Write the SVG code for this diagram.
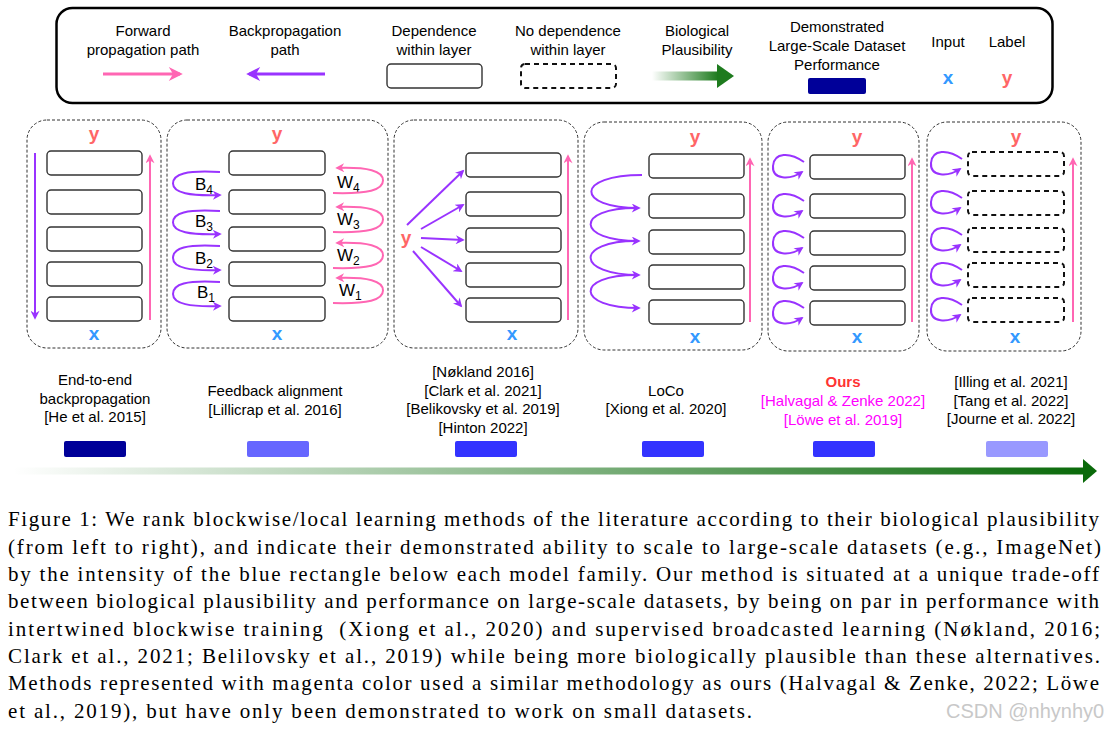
<svg xmlns="http://www.w3.org/2000/svg" width="1114" height="731" viewBox="0 0 1114 731">
<style>
.t{font-family:"Liberation Sans",Arial,sans-serif;font-size:15px;fill:#000;text-anchor:middle}
.lbl{font-family:"Liberation Sans",Arial,sans-serif;font-size:19px;font-weight:bold;text-anchor:middle}
.ly{fill:#ff6666}
.lx{fill:#3399ff}
.bw{font-family:"Liberation Sans",Arial,sans-serif;font-size:17px;fill:#000}
.sub{font-size:12px}
.panel{fill:none;stroke:#333;stroke-width:1;stroke-dasharray:3 2}
.blk{fill:#fff;stroke:#333;stroke-width:1.4}
.dblk{fill:#fff;stroke:#111;stroke-width:2;stroke-dasharray:5 4}
.pk{fill:none;stroke:#ff66b3;stroke-width:2;marker-end:url(#mpk)}
.pu{fill:none;stroke:#9933ff;stroke-width:2;marker-end:url(#mpu)}
.cap{font-family:"Liberation Serif","Times New Roman",serif;font-size:21px;fill:#000}
.perf{stroke:none}
</style>
<defs>
<marker id="mpk" viewBox="0 0 10 10" refX="8" refY="5" markerWidth="10" markerHeight="9" markerUnits="userSpaceOnUse" orient="auto"><path d="M0,0 L10,5 L0,10 L3,5 z" fill="#ff66b3"/></marker>
<marker id="mpu" viewBox="0 0 10 10" refX="8" refY="5" markerWidth="10" markerHeight="9" markerUnits="userSpaceOnUse" orient="auto"><path d="M0,0 L10,5 L0,10 L3,5 z" fill="#9933ff"/></marker>
<marker id="mpkL" viewBox="0 0 10 10" refX="8" refY="5" markerWidth="16" markerHeight="14" markerUnits="userSpaceOnUse" orient="auto"><path d="M0,0 L10,5 L0,10 L3,5 z" fill="#ff66b3"/></marker>
<marker id="mpuL" viewBox="0 0 10 10" refX="8" refY="5" markerWidth="16" markerHeight="14" markerUnits="userSpaceOnUse" orient="auto"><path d="M0,0 L10,5 L0,10 L3,5 z" fill="#9933ff"/></marker>
<linearGradient id="gLeg" x1="0" y1="0" x2="1" y2="0"><stop offset="0" stop-color="#1e7b1e" stop-opacity="0"/><stop offset="1" stop-color="#1e7b1e"/></linearGradient>
<linearGradient id="gBot" x1="0" y1="0" x2="1" y2="0"><stop offset="0" stop-color="#0a6a0a" stop-opacity="0"/><stop offset="1" stop-color="#0a6a0a"/></linearGradient>
</defs>

<g id="legend">
<rect x="56.5" y="8" width="996" height="95" rx="16" fill="none" stroke="#000" stroke-width="2.5"/>
<text class="t" x="143" y="36">Forward</text>
<text class="t" x="143" y="55">propagation path</text>
<line x1="103" y1="74" x2="180" y2="74" stroke="#ff66b3" stroke-width="3" marker-end="url(#mpkL)"/>
<text class="t" x="285" y="36">Backpropagation</text>
<text class="t" x="285" y="55">path</text>
<line x1="325" y1="74" x2="249" y2="74" stroke="#9933ff" stroke-width="3" marker-end="url(#mpuL)"/>
<text class="t" x="434" y="36">Dependence</text>
<text class="t" x="434" y="55">within layer</text>
<rect class="blk" x="387" y="64" width="95" height="24" rx="4"/>
<text class="t" x="568" y="36">No dependence</text>
<text class="t" x="568" y="55">within layer</text>
<rect class="dblk" x="521" y="64" width="95" height="24" rx="4"/>
<text class="t" x="697" y="36">Biological</text>
<text class="t" x="697" y="55">Plausibility</text>
<rect x="652" y="71.5" width="66" height="9" fill="url(#gLeg)"/>
<polygon points="717,64 734,76 717,88" fill="#1e7b1e"/>
<text class="t" x="837" y="32">Demonstrated</text>
<text class="t" x="837" y="51">Large-Scale Dataset</text>
<text class="t" x="837" y="70">Performance</text>
<rect x="808" y="78" width="58" height="16" rx="2" fill="#000099"/>
<text class="t" x="948" y="47">Input</text>
<text class="lbl lx" x="948" y="84">x</text>
<text class="t" x="1007" y="47">Label</text>
<text class="lbl ly" x="1007" y="84">y</text>
</g>

<g id="panel1">
<rect class="panel" x="27" y="120" width="134" height="228" rx="20"/>
<text class="lbl ly" x="94" y="140">y</text>
<rect class="blk" x="47" y="151" width="95" height="24" rx="4"/>
<rect class="blk" x="47" y="190" width="95" height="24" rx="4"/>
<rect class="blk" x="47" y="227" width="95" height="24" rx="4"/>
<rect class="blk" x="47" y="262" width="95" height="24" rx="4"/>
<rect class="blk" x="47" y="297" width="95" height="24" rx="4"/>
<text class="lbl lx" x="94" y="340">x</text>
</g>

<g id="panel2">
<rect class="panel" x="167" y="120" width="221" height="228" rx="20"/>
<text class="lbl ly" x="277" y="140">y</text>
<rect class="blk" x="229" y="151" width="96" height="24" rx="4"/>
<rect class="blk" x="229" y="190" width="96" height="24" rx="4"/>
<rect class="blk" x="229" y="227" width="96" height="24" rx="4"/>
<rect class="blk" x="229" y="262" width="96" height="24" rx="4"/>
<rect class="blk" x="229" y="297" width="96" height="24" rx="4"/>
<text class="lbl lx" x="277" y="340">x</text>
<text class="bw" x="195" y="190">B<tspan class="sub" dy="4">4</tspan></text>
<text class="bw" x="195" y="227">B<tspan class="sub" dy="4">3</tspan></text>
<text class="bw" x="195" y="264">B<tspan class="sub" dy="4">2</tspan></text>
<text class="bw" x="197" y="298">B<tspan class="sub" dy="4">1</tspan></text>
<text class="bw" x="337" y="188">W<tspan class="sub" dy="4">4</tspan></text>
<text class="bw" x="337" y="225">W<tspan class="sub" dy="4">3</tspan></text>
<text class="bw" x="337" y="261">W<tspan class="sub" dy="4">2</tspan></text>
<text class="bw" x="339" y="296">W<tspan class="sub" dy="4">1</tspan></text>
</g>

<g id="panel3">
<rect class="panel" x="394" y="120" width="184" height="228" rx="20"/>
<text class="lbl ly" x="406" y="244">y</text>
<rect class="blk" x="466" y="153" width="95" height="24" rx="4"/>
<rect class="blk" x="466" y="192" width="95" height="24" rx="4"/>
<rect class="blk" x="466" y="228" width="95" height="24" rx="4"/>
<rect class="blk" x="466" y="263" width="95" height="24" rx="4"/>
<rect class="blk" x="466" y="298" width="95" height="24" rx="4"/>
<text class="lbl lx" x="512" y="340">x</text>
</g>

<g id="panel4">
<rect class="panel" x="584" y="122" width="178" height="228" rx="20"/>
<text class="lbl ly" x="695" y="143">y</text>
<rect class="blk" x="649" y="154" width="95" height="24" rx="4"/>
<rect class="blk" x="649" y="194" width="95" height="24" rx="4"/>
<rect class="blk" x="649" y="230" width="95" height="24" rx="4"/>
<rect class="blk" x="649" y="265" width="95" height="24" rx="4"/>
<rect class="blk" x="649" y="300" width="95" height="24" rx="4"/>
<text class="lbl lx" x="695" y="343">x</text>
</g>

<g id="panel5">
<rect class="panel" x="768" y="122" width="151" height="229" rx="20"/>
<text class="lbl ly" x="857" y="143">y</text>
<rect class="blk" x="810" y="155" width="95" height="24" rx="4"/>
<rect class="blk" x="810" y="194" width="95" height="24" rx="4"/>
<rect class="blk" x="810" y="231" width="95" height="24" rx="4"/>
<rect class="blk" x="810" y="266" width="95" height="24" rx="4"/>
<rect class="blk" x="810" y="301" width="95" height="24" rx="4"/>
<text class="lbl lx" x="857" y="343">x</text>
</g>

<g id="panel6">
<rect class="panel" x="927" y="122" width="154" height="229" rx="20"/>
<text class="lbl ly" x="1016" y="143">y</text>
<rect class="dblk" x="968" y="152" width="96" height="24" rx="4"/>
<rect class="dblk" x="968" y="191" width="96" height="24" rx="4"/>
<rect class="dblk" x="968" y="228" width="96" height="24" rx="4"/>
<rect class="dblk" x="968" y="263" width="96" height="24" rx="4"/>
<rect class="dblk" x="968" y="298" width="96" height="24" rx="4"/>
<text class="lbl lx" x="1015" y="343">x</text>
</g>

<g id="connectors">
<line class="pu" x1="35" y1="153" x2="35" y2="318"/>
<line class="pk" x1="150" y1="320" x2="150" y2="156"/>
<path class="pu" d="M220,172 C186,170 173,174 173,183.5 C173,193 190,196 220,195"/>
<path class="pu" d="M220,211 C186,209 173,213 173,222.5 C173,232 190,235 220,234"/>
<path class="pu" d="M220,246 C186,244 173,248 173,258 C173,268 190,271 220,270"/>
<path class="pu" d="M220,282 C186,280 173,284 173,294 C173,304 190,307 220,306"/>
<path class="pk" d="M333,193 C368,194 383,190 383,180.5 C383,171 368,167 337,168"/>
<path class="pk" d="M333,232 C368,233 383,229 383,219.5 C383,210 368,206 337,207"/>
<path class="pk" d="M333,268 C368,269 383,265 383,255.5 C383,246 368,242 337,243"/>
<path class="pk" d="M333,303 C368,304 383,300 383,290.5 C383,281 368,277 337,278"/>
<line class="pu" x1="407" y1="225" x2="463" y2="171"/>
<line class="pu" x1="421" y1="229" x2="463" y2="205"/>
<line class="pu" x1="421" y1="238" x2="463" y2="240"/>
<line class="pu" x1="421" y1="247" x2="461" y2="271"/>
<line class="pu" x1="413" y1="251" x2="461" y2="306"/>
<line class="pk" x1="568" y1="320" x2="568" y2="156"/>
<path class="pu" d="M642,175 C575,175 575,208 639,208"/>
<path class="pu" d="M636,208 C575,208 575,241 639,241"/>
<path class="pu" d="M636,241 C575,241 575,275 639,275"/>
<path class="pu" d="M636,275 C575,275 575,308 639,308"/>
<line class="pk" x1="750" y1="322" x2="750" y2="159"/>
<path class="pu" d="M804,162 C790,152 774,152 773,166 C772,180 790,180 802,172"/>
<path class="pu" d="M804,201 C790,191 774,191 773,205 C772,219 790,219 802,211"/>
<path class="pu" d="M804,238 C790,228 774,228 773,242 C772,256 790,256 802,248"/>
<path class="pu" d="M804,273 C790,263 774,263 773,277 C772,291 790,291 802,283"/>
<path class="pu" d="M804,308 C790,298 774,298 773,312 C772,326 790,326 802,318"/>
<line class="pk" x1="912" y1="322" x2="912" y2="159"/>
<path class="pu" d="M962,159 C948,149 932,149 931,163 C930,177 948,177 960,169"/>
<path class="pu" d="M962,198 C948,188 932,188 931,202 C930,216 948,216 960,208"/>
<path class="pu" d="M962,235 C948,225 932,225 931,239 C930,253 948,253 960,245"/>
<path class="pu" d="M962,270 C948,260 932,260 931,274 C930,288 948,288 960,280"/>
<path class="pu" d="M962,305 C948,295 932,295 931,309 C930,323 948,323 960,315"/>
<line class="pk" x1="1073" y1="322" x2="1073" y2="159"/>
</g>

<g id="methods">
<text class="t" x="95" y="385">End-to-end</text>
<text class="t" x="95" y="404">backpropagation</text>
<text class="t" x="95" y="422">[He et al. 2015]</text>
<rect class="perf" x="64" y="441" width="62" height="16" rx="2" fill="#000099"/>
<text class="t" x="275" y="396">Feedback alignment</text>
<text class="t" x="275" y="415">[Lillicrap et al. 2016]</text>
<rect class="perf" x="247" y="441" width="62" height="16" rx="2" fill="#6666ff"/>
<text class="t" x="483" y="377">[Nøkland 2016]</text>
<text class="t" x="483" y="396">[Clark et al. 2021]</text>
<text class="t" x="483" y="414">[Belikovsky et al. 2019]</text>
<text class="t" x="483" y="433">[Hinton 2022]</text>
<rect class="perf" x="455" y="441" width="62" height="16" rx="2" fill="#3333ff"/>
<text class="t" x="666" y="396">LoCo</text>
<text class="t" x="666" y="414">[Xiong et al. 2020]</text>
<rect class="perf" x="642" y="441" width="62" height="16" rx="2" fill="#3333ff"/>
<text class="t" x="843" y="387" style="font-weight:bold;fill:#ff3333">Ours</text>
<text class="t" x="843" y="406" style="fill:#ff00ff">[Halvagal &amp; Zenke 2022]</text>
<text class="t" x="843" y="425" style="fill:#ff00ff">[Löwe et al. 2019]</text>
<rect class="perf" x="813" y="441" width="62" height="16" rx="2" fill="#3333ff"/>
<text class="t" x="1011" y="387">[Illing et al. 2021]</text>
<text class="t" x="1011" y="406">[Tang et al. 2022]</text>
<text class="t" x="1011" y="424">[Journe et al. 2022]</text>
<rect class="perf" x="986" y="441" width="62" height="16" rx="2" fill="#9999ff"/>
</g>

<g id="plausibility-axis">
<rect x="13" y="467.5" width="1071" height="7" fill="url(#gBot)"/>
<polygon points="1083,459 1097,471 1083,483" fill="#0a6a0a"/>
</g>

<g id="caption">
<text class="cap" x="8" y="526" textLength="1091" lengthAdjust="spacing">Figure 1: We rank blockwise/local learning methods of the literature according to their biological plausibility</text>
<text class="cap" x="8" y="553.5" textLength="1093" lengthAdjust="spacing">(from left to right), and indicate their demonstrated ability to scale to large-scale datasets (e.g., ImageNet)</text>
<text class="cap" x="8" y="581" textLength="1091" lengthAdjust="spacing">by the intensity of the blue rectangle below each model family. Our method is situated at a unique trade-off</text>
<text class="cap" x="8" y="608" textLength="1091" lengthAdjust="spacing">between biological plausibility and performance on large-scale datasets, by being on par in performance with</text>
<text class="cap" x="8" y="635.5" textLength="1092" lengthAdjust="spacing">intertwined blockwise training&#160; (Xiong et al., 2020) and supervised broadcasted learning (Nøkland, 2016;</text>
<text class="cap" x="8" y="663" textLength="1092" lengthAdjust="spacing">Clark et al., 2021; Belilovsky et al., 2019) while being more biologically plausible than these alternatives.</text>
<text class="cap" x="8" y="690" textLength="1091" lengthAdjust="spacing">Methods represented with magenta color used a similar methodology as ours (Halvagal &amp; Zenke, 2022; Löwe</text>
<text class="cap" x="8" y="718" textLength="744" lengthAdjust="spacing">et al., 2019), but have only been demonstrated to work on small datasets.</text>
</g>

<text x="946" y="718" style="font-family:'Liberation Sans',Arial,sans-serif;font-size:20px;fill:#c8c8c8">CSDN @nhynhy0</text>
</svg>
